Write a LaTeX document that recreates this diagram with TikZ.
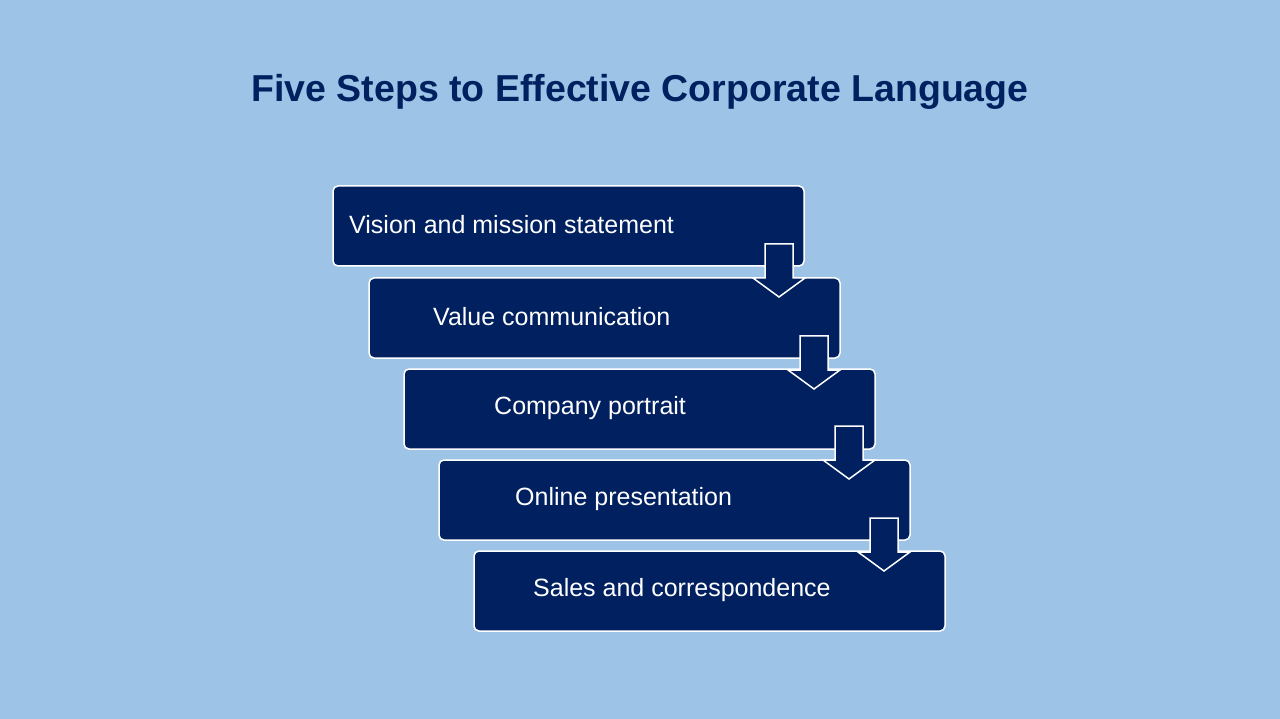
\documentclass[tikz,border=0pt]{standalone}
\usepackage{fontspec}
\setmainfont{Liberation Sans}
\definecolor{bg}{RGB}{157,195,230}
\definecolor{navy}{RGB}{0,32,96}
\begin{document}
\begin{tikzpicture}[x=1pt,y=-1pt,
  stepbox/.style={draw=white,line width=1.5pt,fill=navy,rounded corners=5pt},
  steptext/.style={text=white,font=\fontsize{25}{30}\selectfont,anchor=west,inner sep=0pt},
  downarrow/.style={draw=white,line width=1.5pt,fill=navy,line join=miter}]
\fill[bg] (0,0) rectangle (1280,719);
\useasboundingbox (0,0) rectangle (1280,719);
\node[text=navy,font=\bfseries\fontsize{37.5}{44}\selectfont] (title) at (640,92) {Five Steps to Effective Corporate Language};
\foreach \i/\x/\y/\tx/\t in {1/333/186/349/Vision and mission statement,2/369/278/433/Value communication,3/404/369/494/Company portrait,4/439/460/515/Online presentation,5/474/551/533/Sales and correspondence}{
  \draw[stepbox] (\x,\y) rectangle ++(471,80);
  \node[steptext] (t\i) at (\tx,\y+39) {\t};
}
\foreach \c/\a in {779/244,814/336,849/426,884/518}{
  \draw[downarrow] (\c-14,\a) -- (\c+14,\a) -- (\c+14,\a+34) -- (\c+26,\a+34) -- (\c,\a+53) -- (\c-26,\a+34) -- (\c-14,\a+34) -- cycle;
}
\end{tikzpicture}
\end{document}
